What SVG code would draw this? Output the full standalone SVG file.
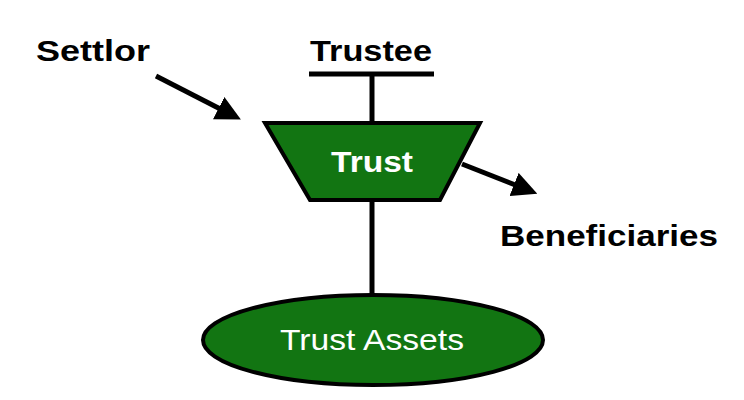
<svg xmlns="http://www.w3.org/2000/svg" width="744" height="400" viewBox="0 0 744 400">
<style>
.t{font-family:"Liberation Sans",Arial,sans-serif;font-weight:bold;font-size:30px;fill:#000}
.w{fill:#fff}
.s{fill:#127512;stroke:#000;stroke-width:4}
.c{stroke:#000;stroke-width:5;fill:none}
</style>
<defs><marker id="a" markerWidth="5" markerHeight="5" refX="3" refY="2.5" orient="auto"><path d="M0,0 L5,2.5 L0,5 Z" fill="#000"/></marker></defs>
<rect width="744" height="400" fill="#fff"/>
<g id="connectors">
<line class="c" x1="156" y1="76" x2="232" y2="115" marker-end="url(#a)"/>
<line class="c" x1="462" y1="164" x2="528" y2="190" marker-end="url(#a)"/>
<line class="c" x1="372" y1="74" x2="372" y2="123"/>
<line class="c" x1="372" y1="200" x2="372" y2="296"/>
</g>
<g id="trustee"><text class="t" x="310" y="61" textLength="122" lengthAdjust="spacingAndGlyphs">Trustee</text><line x1="309" y1="74" x2="434" y2="74" stroke="#000" stroke-width="5"/></g>
<g id="settlor"><text class="t" x="36" y="61" textLength="114" lengthAdjust="spacingAndGlyphs">Settlor</text></g>
<g id="trust"><polygon class="s" points="265,123 480,123 440,200 310,200"/><text class="t w" x="331" y="172" textLength="82" lengthAdjust="spacingAndGlyphs">Trust</text></g>
<g id="beneficiaries"><text class="t" x="500" y="246" textLength="218" lengthAdjust="spacingAndGlyphs">Beneficiaries</text></g>
<g id="assets"><ellipse class="s" cx="373" cy="340" rx="170" ry="45"/><text class="t w" x="280" y="350" textLength="184" lengthAdjust="spacingAndGlyphs" style="font-weight:normal">Trust Assets</text></g>
</svg>
